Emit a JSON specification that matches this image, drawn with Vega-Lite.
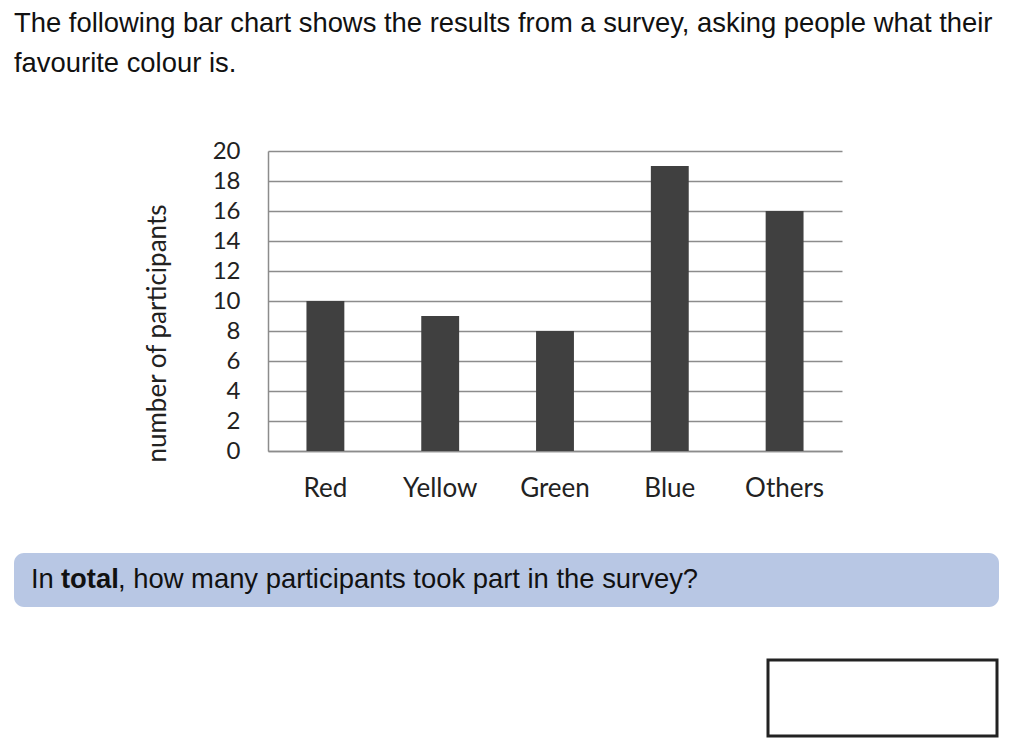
{
  "$schema": "https://vega.github.io/schema/vega-lite/v6.json",
  "width": 574,
  "height": 300,
  "autosize": {"type": "none"},
  "padding": {"left": 268, "top": 151, "right": 182, "bottom": 298},
  "background": "white",
  "config": {"view": {"stroke": null}},
  "layer": [
    {
      "data": {"values": [
        {"colour": "Red", "participants": 10},
        {"colour": "Yellow", "participants": 9},
        {"colour": "Green", "participants": 8},
        {"colour": "Blue", "participants": 19},
        {"colour": "Others", "participants": 16}
      ]},
      "mark": {"type": "bar", "color": "#404040"},
      "encoding": {
        "x": {
          "field": "colour", "type": "nominal", "sort": null,
          "scale": {"paddingInner": 0.67, "paddingOuter": 0.335},
          "axis": {"title": null, "labelAngle": 0, "labelFont": "Lato", "labelFontSize": 26, "labelColor": "#222", "labelPadding": 24, "ticks": false, "domainColor": "#8c8c8c", "domainWidth": 1.5}
        },
        "y": {
          "field": "participants", "type": "quantitative",
          "scale": {"domain": [0, 20], "nice": false},
          "axis": {
            "values": [0, 2, 4, 6, 8, 10, 12, 14, 16, 18, 20],
            "title": "number of participants",
            "titleFont": "Lato", "titleFontSize": 26, "titleFontWeight": "normal", "titleColor": "#222",
            "titleAngle": -90, "titleX": -111, "titleY": 182, "titleAlign": "center", "titleBaseline": "middle",
            "labelFont": "Lato", "labelFontSize": 24, "labelColor": "#222", "labelPadding": 28,
            "ticks": false, "grid": true, "gridColor": "#8c8c8c", "gridWidth": 1.5,
            "domainColor": "#8c8c8c", "domainWidth": 1.5
          }
        }
      }
    },
    {
      "data": {"values": [{"line": "The following bar chart shows the results from a survey, asking people what their"}]},
      "mark": {"type": "text", "font": "Liberation Sans", "fontSize": 27.4, "color": "#111", "align": "left", "baseline": "alphabetic"},
      "encoding": {"text": {"field": "line"}, "x": {"value": -254}, "y": {"value": -119}}
    },
    {
      "data": {"values": [{"line": "favourite colour is."}]},
      "mark": {"type": "text", "font": "Liberation Sans", "fontSize": 27.4, "color": "#111", "align": "left", "baseline": "alphabetic"},
      "encoding": {"text": {"field": "line"}, "x": {"value": -254}, "y": {"value": -79}}
    },
    {
      "data": {"values": [{}]},
      "mark": {"type": "rect", "color": "#b8c7e4", "cornerRadius": 10},
      "encoding": {"x": {"value": -254}, "x2": {"value": 731}, "y": {"value": 402}, "y2": {"value": 456}}
    },
    {
      "data": {"values": [{"part": "In"}]},
      "mark": {"type": "text", "font": "Liberation Sans", "fontSize": 27.4, "color": "#111", "align": "left", "baseline": "middle"},
      "encoding": {"text": {"field": "part"}, "x": {"value": -237}, "y": {"value": 429}}
    },
    {
      "data": {"values": [{"part": "total"}]},
      "mark": {"type": "text", "font": "Liberation Sans", "fontSize": 27.4, "fontWeight": "bold", "color": "#111", "align": "left", "baseline": "middle"},
      "encoding": {"text": {"field": "part"}, "x": {"value": -207}, "y": {"value": 429}}
    },
    {
      "data": {"values": [{"part": ", how many participants took part in the survey?"}]},
      "mark": {"type": "text", "font": "Liberation Sans", "fontSize": 27.4, "color": "#111", "align": "left", "baseline": "middle"},
      "encoding": {"text": {"field": "part"}, "x": {"value": -150}, "y": {"value": 429}}
    },
    {
      "data": {"values": [{}]},
      "mark": {"type": "rect", "fill": "white", "stroke": "#222", "strokeWidth": 3},
      "encoding": {"x": {"value": 500}, "x2": {"value": 729}, "y": {"value": 509}, "y2": {"value": 585}}
    }
  ]
}
